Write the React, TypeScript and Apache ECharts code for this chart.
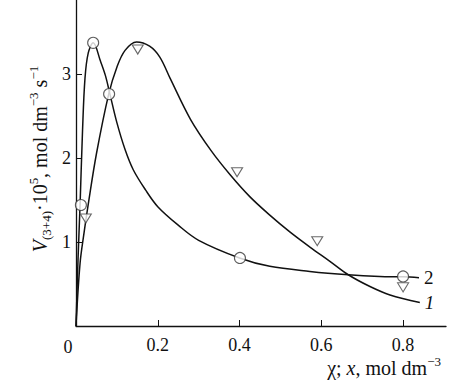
import React, { useEffect, useRef } from "react";
import * as echarts from "echarts";

// Curve 1 (broad maximum, triangles)
const curve1: number[][] = [
  [0, 0], [0.01, 0.75], [0.02, 1.12], [0.03, 1.45], [0.05, 2.05], [0.08, 2.76],
  [0.1, 3.08], [0.12, 3.28], [0.148, 3.38], [0.18, 3.33], [0.205, 3.2],
  [0.23, 2.95], [0.28, 2.46], [0.33, 2.09], [0.377, 1.8], [0.425, 1.54],
  [0.474, 1.32], [0.523, 1.12], [0.572, 0.94], [0.621, 0.77], [0.666, 0.61],
  [0.719, 0.47], [0.768, 0.37], [0.841, 0.28],
];
// Curve 2 (sharp maximum, circles)
const curve2: number[][] = [
  [0, 0], [0.005, 0.8], [0.01, 1.45], [0.016, 2.33], [0.022, 2.95], [0.03, 3.25],
  [0.042, 3.37], [0.06, 3.15], [0.072, 2.98], [0.083, 2.76], [0.1, 2.42],
  [0.12, 2.1], [0.14, 1.86], [0.17, 1.62], [0.2, 1.42], [0.25, 1.2], [0.3, 1.02],
  [0.4, 0.81], [0.474, 0.71], [0.572, 0.65], [0.666, 0.61], [0.743, 0.59],
  [0.8, 0.585], [0.839, 0.575],
];
const circles: number[][] = [
  [0.012, 1.44], [0.042, 3.37], [0.081, 2.76], [0.401, 0.81], [0.8, 0.59],
];
const triangles: number[][] = [
  [0.024, 1.28], [0.151, 3.29], [0.394, 1.83], [0.59, 1.01], [0.8, 0.46],
];
const xTickValues = [0.2, 0.4, 0.6, 0.8];
const yTickValues = [1, 2, 3];
const curveLabels = ["1", "2"];

const FONT = "'Liberation Serif', 'Times New Roman', serif";
const INK = "#111";

export default function App() {
  const ref = useRef<HTMLDivElement>(null);
  useEffect(() => {
    if (!ref.current) return;
    const chart = echarts.init(ref.current, null, { renderer: "svg" });
    chart.setOption({
      animation: false,
      backgroundColor: "#fff",
      textStyle: { fontFamily: FONT },
      grid: { left: 76, right: 28, top: 0, bottom: 55 },
      xAxis: {
        type: "value",
        min: 0,
        max: 0.905,
        splitLine: { show: false },
        axisLine: { lineStyle: { color: INK, width: 1.3 } },
        axisTick: { inside: true, length: 6, customValues: xTickValues, lineStyle: { color: INK } },
        axisLabel: {
          customValues: xTickValues,
          margin: 10,
          fontSize: 18,
          fontFamily: FONT,
          color: INK,
          formatter: (v: number) => String(+v.toFixed(1)),
        },
      },
      yAxis: {
        type: "value",
        min: 0,
        max: 3.88,
        splitLine: { show: false },
        axisLine: { show: true, lineStyle: { color: INK, width: 1.3 } },
        axisTick: { show: true, inside: true, length: 6, customValues: yTickValues, lineStyle: { color: INK } },
        axisLabel: {
          customValues: yTickValues,
          margin: 5,
          fontSize: 18,
          fontFamily: FONT,
          color: INK,
        },
      },
      graphic: [
        {
          type: "text",
          x: 68,
          y: 347,
          style: { text: "0", fontSize: 18, fontFamily: FONT, fill: INK, align: "center", verticalAlign: "middle" },
        },
        {
          type: "text",
          x: 40,
          y: 159,
          rotation: Math.PI / 2,
          style: {
            text: "{v|V}{sub|(3+4)}{n|·10}{sup|5}{n|, mol dm}{sup|−3}{n| s}{sup|−1}",
            align: "center",
            verticalAlign: "middle",
            fill: INK,
            fontFamily: FONT,
            rich: {
              v: { fontStyle: "italic", fontSize: 20, fontFamily: FONT, lineHeight: 26, fill: INK },
              n: { fontSize: 20, fontFamily: FONT, lineHeight: 26, fill: INK },
              sub: { fontSize: 13, fontFamily: FONT, verticalAlign: "bottom", fill: INK },
              sup: { fontSize: 13, fontFamily: FONT, verticalAlign: "top", fill: INK },
            },
          },
        },
        {
          type: "text",
          x: 441,
          y: 368,
          style: {
            text: "{n|χ; }{i|x}{n|, mol dm}{sup|−3}",
            align: "right",
            verticalAlign: "middle",
            fill: INK,
            fontFamily: FONT,
            rich: {
              n: { fontSize: 20, fontFamily: FONT, lineHeight: 26, fill: INK },
              i: { fontSize: 20, fontFamily: FONT, fontStyle: "italic", lineHeight: 26, fill: INK },
              sup: { fontSize: 13, fontFamily: FONT, verticalAlign: "top", fill: INK },
            },
          },
        },
      ],
      series: [
        {
          type: "line",
          data: curve1,
          smooth: 0.35,
          showSymbol: false,
          lineStyle: { color: INK, width: 1.5 },
          endLabel: {
            show: true,
            formatter: curveLabels[0],
            fontSize: 19,
            fontStyle: "italic",
            fontFamily: FONT,
            color: INK,
            distance: 5,
          },
          z: 2,
        },
        {
          type: "line",
          data: curve2,
          smooth: 0.35,
          showSymbol: false,
          lineStyle: { color: INK, width: 1.5 },
          endLabel: {
            show: true,
            formatter: curveLabels[1],
            fontSize: 19,
            fontFamily: FONT,
            color: INK,
            distance: 5,
          },
          z: 2,
        },
        {
          type: "scatter",
          data: circles,
          symbol: "circle",
          symbolSize: 11,
          itemStyle: { color: "#fff", borderColor: "#333", borderWidth: 1.1 },
          z: 3,
        },
        {
          type: "scatter",
          data: triangles,
          symbol: "triangle",
          symbolSize: [11, 9],
          symbolRotate: 180,
          itemStyle: { color: "#fff", borderColor: "#444", borderWidth: 1.1 },
          z: 3,
        },
      ],
    });
    return () => chart.dispose();
  }, []);
  return (
    <div
      ref={ref}
      style={{ position: "fixed", left: 0, top: 0, width: 474, height: 381, background: "#fff" }}
    />
  );
}
